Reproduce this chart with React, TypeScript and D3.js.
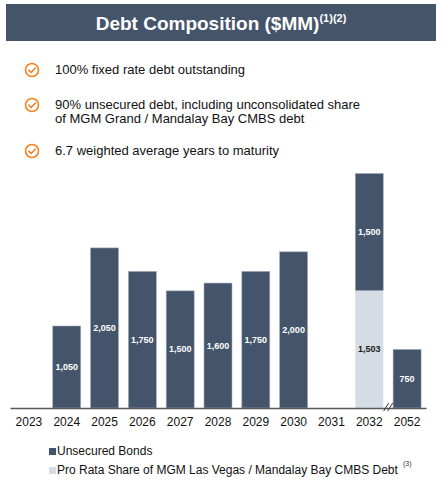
import { useEffect, useRef } from "react";
import * as d3 from "d3";

const years = ["2023", "2024", "2025", "2026", "2027", "2028", "2029", "2030", "2031", "2032", "2052"];
const unsecured = [0, 1050, 2050, 1750, 1500, 1600, 1750, 2000, 0, 1500, 750];
const cmbs = [0, 0, 0, 0, 0, 0, 0, 0, 0, 1503, 0];
const bullets = [
    ["100% fixed rate debt outstanding"],
    ["90% unsecured debt, including unconsolidated share", "of MGM Grand / Mandalay Bay CMBS debt"],
    ["6.7 weighted average years to maturity"],
];
const legendItems = ["Unsecured Bonds", "Pro Rata Share of MGM Las Vegas / Mandalay Bay CMBS Debt"];

const DARK = "#44546a";
const LIGHT = "#d6dce5";
const ORANGE = "#f5821f";
const FONT = "'Liberation Sans', Arial, sans-serif";

const App = () => {
    const svgRef = useRef<SVGSVGElement | null>(null);

    useEffect(() => {
        if (!svgRef.current) return;
        const svg = d3.select(svgRef.current);
        svg.selectAll("*").remove();
        const width = 444;
        const height = 491;
        const baseY = 408;

        svg.attr("width", width).attr("height", height).style("font-family", FONT);

        // header bar
        svg.append("rect").attr("x", 6).attr("y", 4).attr("width", 430).attr("height", 37).attr("fill", DARK);
        const title = svg.append("text")
            .attr("x", 221).attr("y", 29.5)
            .attr("text-anchor", "middle")
            .attr("fill", "#fff")
            .attr("font-weight", "bold")
            .attr("font-size", 19);
        title.append("tspan").text("Debt Composition ($MM)");
        title.append("tspan").attr("font-size", 11).attr("dy", -8).text("(1)(2)");

        // bullets
        const bulletY = [70, 105, 151];
        bullets.forEach((lines, i) => {
            const cy = bulletY[i];
            svg.append("circle").attr("cx", 32).attr("cy", cy).attr("r", 6.5)
                .attr("fill", "none").attr("stroke", ORANGE).attr("stroke-width", 1.6);
            svg.append("path")
                .attr("d", `M${28.8},${cy + 0.2} L${31.2},${cy + 2.5} L${35.3},${cy - 2}`)
                .attr("fill", "none").attr("stroke", ORANGE).attr("stroke-width", 1.6)
                .attr("stroke-linecap", "round").attr("stroke-linejoin", "round");
            lines.forEach((line, j) => {
                svg.append("text").attr("x", 55).attr("y", cy + 4 + j * 13.5)
                    .attr("font-size", 13).attr("fill", "#111").text(line);
            });
        });

        const x = d3.scaleBand<string>()
            .domain(years)
            .range([10, 426])
            .paddingInner(0.26)
            .paddingOuter(0.13);

        const y = d3.scaleLinear()
            .domain([0, 3003])
            .range([baseY, 173.5]);

        // bars
        years.forEach((yr, i) => {
            const bx = x(yr) ?? 0;
            const bw = x.bandwidth();
            if (cmbs[i] > 0) {
                svg.append("rect").attr("x", bx).attr("y", y(cmbs[i])).attr("width", bw)
                    .attr("height", baseY - y(cmbs[i])).attr("fill", LIGHT);
                svg.append("text").attr("x", bx + bw / 2).attr("y", (y(cmbs[i]) + baseY) / 2 + 3)
                    .attr("text-anchor", "middle").attr("font-size", 9).attr("font-weight", "bold")
                    .attr("fill", "#1a1a1a").text(d3.format(",")(cmbs[i]));
            }
            if (unsecured[i] > 0) {
                const y0 = y(cmbs[i]);
                const y1 = y(cmbs[i] + unsecured[i]);
                svg.append("rect").attr("x", bx).attr("y", y1).attr("width", bw)
                    .attr("height", y0 - y1).attr("fill", DARK)
                    .attr("stroke", "#a4acb8").attr("stroke-width", 0.6);
                svg.append("text").attr("x", bx + bw / 2).attr("y", (y0 + y1) / 2 + 3)
                    .attr("text-anchor", "middle").attr("font-size", 9).attr("font-weight", "bold")
                    .attr("fill", "#fff").text(d3.format(",")(unsecured[i]));
            }
        });

        // axis
        const axis = svg.append("g").attr("transform", `translate(0,${baseY})`)
            .call(d3.axisBottom(x).tickSize(0).tickPadding(9));
        axis.select(".domain").attr("stroke", "#595959").attr("stroke-width", 1.5);
        axis.selectAll("text").attr("font-size", 12).attr("font-family", FONT).attr("fill", "#111");

        // break mark
        const bxm = ((x("2032") ?? 0) + x.bandwidth() + (x("2052") ?? 0)) / 2;
        [-2, 2].forEach((o) => {
            svg.append("line")
                .attr("x1", bxm + o - 2.5).attr("y1", baseY + 3)
                .attr("x2", bxm + o + 2.5).attr("y2", baseY - 5)
                .attr("stroke", "#333").attr("stroke-width", 1);
        });

        // legend
        legendItems.forEach((label, i) => {
            const ly = 455 + i * 19;
            svg.append("rect").attr("x", 49).attr("y", ly - 7).attr("width", 7).attr("height", 7)
                .attr("fill", i === 0 ? DARK : LIGHT);
            svg.append("text").attr("x", 57).attr("y", ly).attr("font-size", 12)
                .attr("fill", "#111").text(label);
        });
        svg.append("text").attr("x", 403).attr("y", 466).attr("font-size", 7)
            .attr("fill", "#333").text("(3)");
    }, []);

    return <svg ref={svgRef} style={{ position: "absolute", left: 0, top: 0 }} />;
};

export default App;
